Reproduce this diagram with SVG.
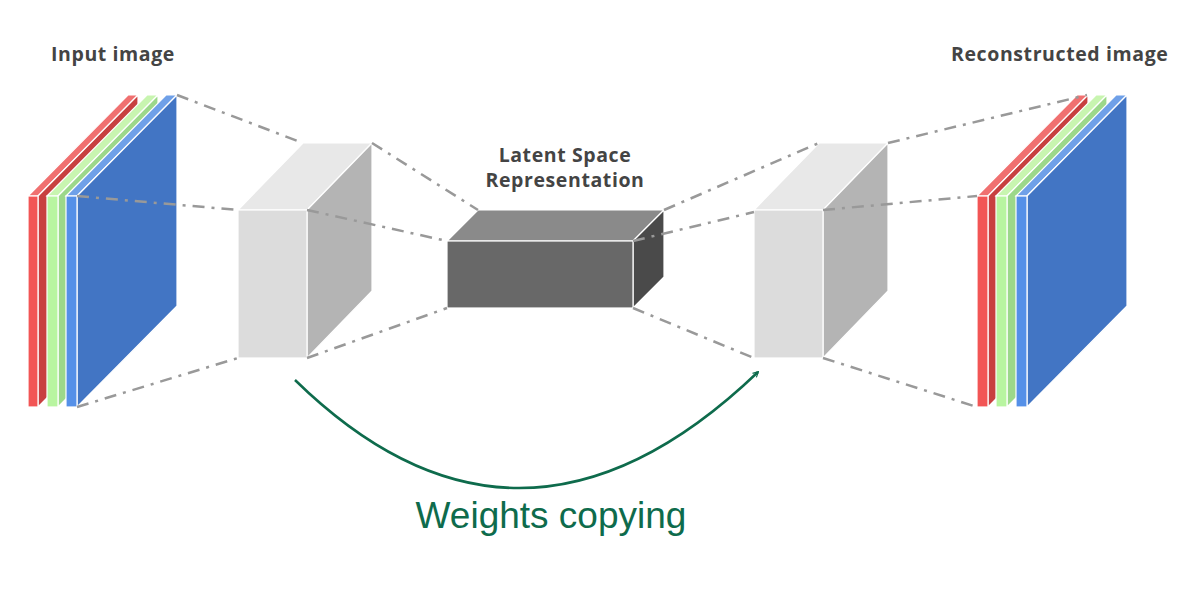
<svg xmlns="http://www.w3.org/2000/svg" width="1200" height="589" viewBox="0 0 1200 589">
<style>
.lbl{font-family:"Open Sans","Liberation Sans",sans-serif;font-weight:bold;font-size:19.5px;letter-spacing:0.6px;fill:#444}
.dd{fill:none;stroke:#999;stroke-width:2.5;stroke-dasharray:12 7 3 7}
.w{stroke:#fff;stroke-width:1.2}
</style>
<defs>
<marker id="ah" viewBox="0 0 10 10" refX="8" refY="5" markerWidth="7" markerHeight="7" orient="auto" markerUnits="userSpaceOnUse">
<path d="M1,1 L9,5 L1,9" fill="none" stroke="#0e6b4c" stroke-width="1.6"/>
</marker>
</defs>
<rect width="1200" height="589" fill="#fff"/>
<g id="input-image">
<g class="w">
<polygon points="28,196 38,196 138,95 128,95" fill="#f07070"/>
<polygon points="38,196 138,95 138,306 38,407" fill="#c84040"/>
<rect x="28" y="196" width="10" height="211" fill="#f25555"/>
<polygon points="47,196 58,196 158,95 147,95" fill="#c8f5b0"/>
<polygon points="58,196 158,95 158,306 58,407" fill="#9cd88a"/>
<rect x="47" y="196" width="11" height="211" fill="#b8f5a0"/>
<polygon points="66,196 77,196 177,95 166,95" fill="#6fa0e8"/>
<polygon points="77,196 177,95 177,306 77,407" fill="#4275c4"/>
<rect x="66" y="196" width="11" height="211" fill="#5590e8"/>
</g>
</g>
<g id="reconstructed-image">
<g class="w">
<polygon points="977,196 988,196 1088,95 1077,95" fill="#f07070"/>
<polygon points="988,196 1088,95 1088,306 988,407" fill="#c84040"/>
<rect x="977" y="196" width="11" height="211" fill="#f25555"/>
<polygon points="996,196 1007,196 1107,95 1096,95" fill="#c8f5b0"/>
<polygon points="1007,196 1107,95 1107,306 1007,407" fill="#9cd88a"/>
<rect x="996" y="196" width="11" height="211" fill="#b8f5a0"/>
<polygon points="1016,196 1027,196 1127,95 1116,95" fill="#6fa0e8"/>
<polygon points="1027,196 1127,95 1127,306 1027,407" fill="#4275c4"/>
<rect x="1016" y="196" width="11" height="211" fill="#5590e8"/>
</g>
</g>
<g id="encoder-layer" class="w">
<polygon points="238,210 307,210 372,143 303,143" fill="#e8e8e8"/>
<polygon points="307,210 372,143 372,291 307,358" fill="#b4b4b4"/>
<rect x="238" y="210" width="69" height="148" fill="#dcdcdc"/>
</g>
<g id="decoder-layer" class="w">
<polygon points="754,210 823,210 888,143 819,143" fill="#e8e8e8"/>
<polygon points="823,210 888,143 888,291 823,358" fill="#b4b4b4"/>
<rect x="754" y="210" width="69" height="148" fill="#dcdcdc"/>
</g>
<g id="latent" class="w">
<polygon points="447,241 633,241 664,210 478,210" fill="#8a8a8a"/>
<polygon points="633,241 664,210 664,277 633,308" fill="#4a4a4a"/>
<rect x="447" y="241" width="186" height="67" fill="#686868"/>
</g>
<g id="connectors">
<path class="dd" d="M177,95 L303,143"/>
<path class="dd" d="M77,196 L238,210"/>
<path class="dd" d="M77,407 L238,358"/>
<path class="dd" d="M372,143 L478,210"/>
<path class="dd" d="M307,210 L447,241"/>
<path class="dd" d="M307,358 L447,308"/>
<path class="dd" d="M664,210 L819,143"/>
<path class="dd" d="M633,241 L754,212"/>
<path class="dd" d="M633,308 L754,358"/>
<path class="dd" d="M888,143 L1087,95"/>
<path class="dd" d="M823,210 L977,196"/>
<path class="dd" d="M823,358 L977,407"/>
<path d="M295,380 Q520,600 758,372" fill="none" stroke="#0e6b4c" stroke-width="2.5" marker-end="url(#ah)"/>
</g>
<g id="labels">
<text class="lbl" x="51" y="61">Input image</text>
<text class="lbl" x="951" y="61">Reconstructed image</text>
<text class="lbl" x="565" y="162" text-anchor="middle">Latent Space</text>
<text class="lbl" x="565" y="187" text-anchor="middle">Representation</text>
<text x="551" y="528" text-anchor="middle" font-family="Liberation Sans, Arial, sans-serif" font-size="37" fill="#0e6b4c">Weights copying</text>
</g>
</svg>
